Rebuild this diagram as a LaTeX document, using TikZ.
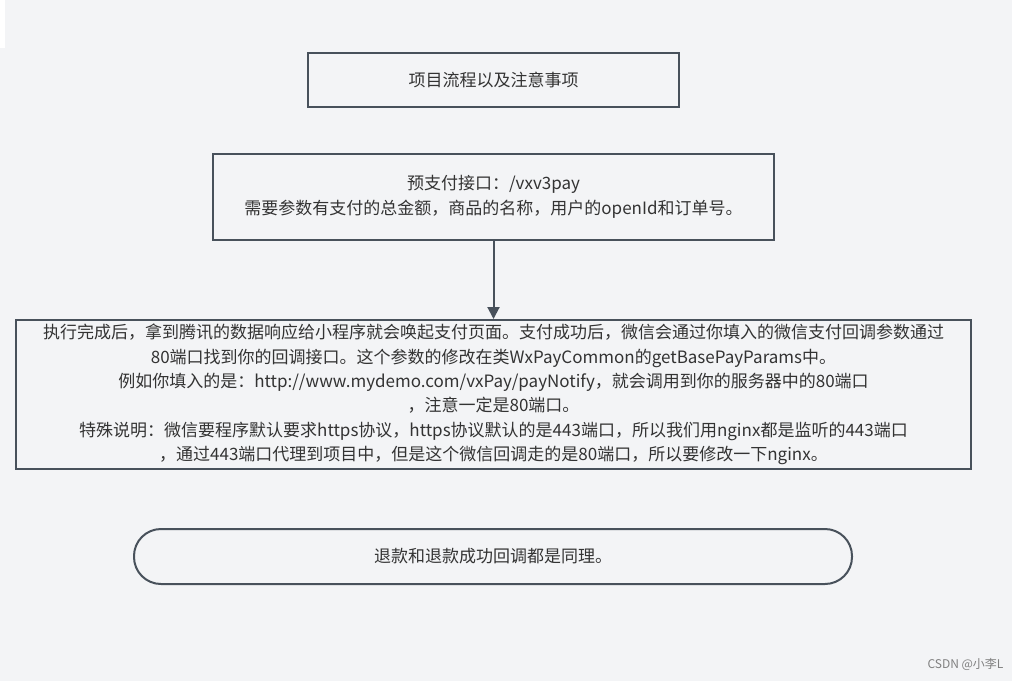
\documentclass[tikz,border=0pt]{standalone}
\usepackage{fontspec}
\newfontfamily\cjk{Noto Sans CJK SC}
\usetikzlibrary{arrows.meta}
\definecolor{bg}{HTML}{F3F4F6}
\definecolor{bd}{HTML}{48515B}
\definecolor{tx}{HTML}{333333}
\tikzset{x=1pt,y=-1pt,
 box/.style={draw=bd,line width=2pt,fill=bg,text=tx,font=\cjk\fontsize{17}{24.4}\selectfont,align=center,inner sep=0pt},
 conn/.style={draw=bd,line width=2pt,-{Triangle[length=12pt,width=12pt]}}}
\begin{document}
\begin{tikzpicture}
\useasboundingbox[fill=bg] (0,0) rectangle (1012,681);
\fill[white] (0,0) rectangle (5,48);
\node[box,minimum width=371pt,minimum height=54pt] (a) at (493.5,80) {项目流程以及注意事项};
\node[box,minimum width=561pt,minimum height=86pt] (b) at (493.5,197) {预支付接口：/vxv3pay\\需要参数有支付的总金额，商品的名称，用户的openId和订单号。};
\node[box,minimum width=955pt,minimum height=149pt] (c) at (493.5,394.5) {执行完成后，拿到腾讯的数据响应给小程序就会唤起支付页面。支付成功后，微信会通过你填入的微信支付回调参数通过\\80端口找到你的回调接口。这个参数的修改在类WxPayCommon的getBasePayParams中。\\例如你填入的是：http://www.mydemo.com/vxPay/payNotify，就会调用到你的服务器中的80端口\\，注意一定是80端口。\\特殊说明：微信要程序默认要求https协议，https协议默认的是443端口，所以我们用nginx都是监听的443端口\\，通过443端口代理到项目中，但是这个微信回调走的是80端口，所以要修改一下nginx。};
\node[box,rounded corners=27pt,minimum width=718pt,minimum height=55pt] (d) at (493,556.5) {退款和退款成功回调都是同理。};
\draw[conn] (b.south) -- (c.north);
\node[anchor=east,text=gray,font=\cjk\fontsize{12}{14}\selectfont] (w) at (1007,664) {CSDN @小李L};
\end{tikzpicture}
\end{document}
